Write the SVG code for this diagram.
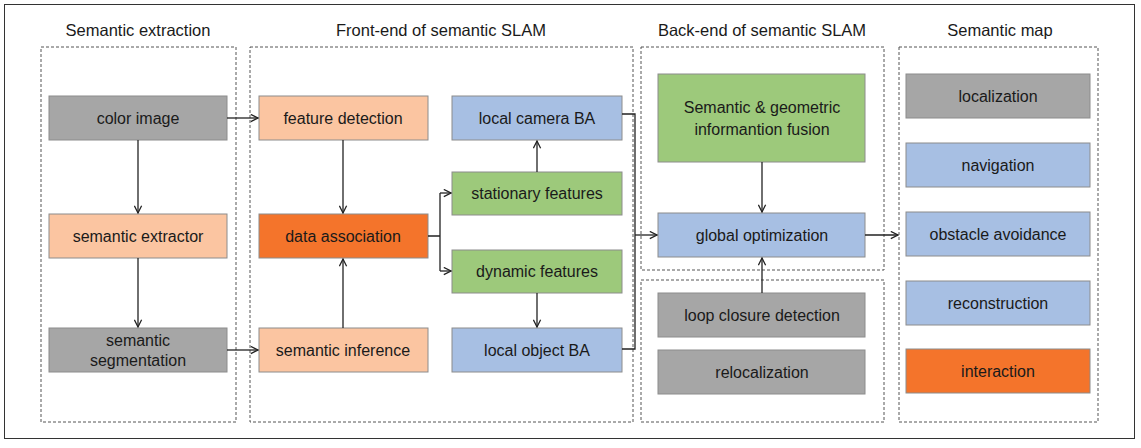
<svg xmlns="http://www.w3.org/2000/svg" width="1141" height="448" viewBox="0 0 1141 448">
<defs>
<style>
text{font-family:"Liberation Sans",Arial,sans-serif;font-size:16px;fill:#1a1a1a;text-anchor:middle;dominant-baseline:central}
.t{font-size:16.5px}
.b rect{stroke:#8c8c8c;stroke-width:1}
.g{fill:#a6a6a6}.p{fill:#fbc5a1}.o{fill:#f4742b}.bl{fill:#a7bfe3}.gr{fill:#9dc97b}
.d{fill:none;stroke:#555;stroke-width:1;stroke-dasharray:3 2}
.c path{fill:none;stroke:#222;stroke-width:1.3}
</style>
<marker id="a" viewBox="0 0 10 10" refX="9" refY="5" markerWidth="9" markerHeight="9" markerUnits="userSpaceOnUse" orient="auto"><path d="M1,1 L9,5 L1,9" fill="none" stroke="#222" stroke-width="1.4"/></marker>
</defs>
<rect x="0" y="0" width="1141" height="448" fill="#fff"/>
<rect x="4.5" y="4.5" width="1130" height="434" fill="none" stroke="#333" stroke-width="1"/>
<g id="frames">
<rect class="d" x="41" y="47" width="195" height="375"/>
<rect class="d" x="250" y="47" width="383" height="375"/>
<rect class="d" x="641" y="47" width="243" height="223"/>
<rect class="d" x="641" y="280" width="243" height="142"/>
<rect class="d" x="899" y="47" width="199" height="375"/>
<text class="t" x="138" y="30">Semantic extraction</text>
<text class="t" x="441" y="30">Front-end of semantic SLAM</text>
<text class="t" x="762" y="30">Back-end of semantic SLAM</text>
<text class="t" x="1000" y="30">Semantic map</text>
</g>
<g id="color-image" class="b"><rect class="g" x="49" y="96" width="178" height="44"/><text x="138" y="118">color image</text></g>
<g id="semantic-extractor" class="b"><rect class="p" x="49" y="214" width="178" height="44"/><text x="138" y="236">semantic extractor</text></g>
<g id="semantic-segmentation" class="b"><rect class="g" x="49" y="328" width="178" height="44"/><text x="138" y="340">semantic</text><text x="138" y="360">segmentation</text></g>
<g id="feature-detection" class="b"><rect class="p" x="259" y="96" width="169" height="44"/><text x="343" y="118">feature detection</text></g>
<g id="data-association" class="b"><rect class="o" x="259" y="214" width="169" height="44"/><text x="343" y="236">data association</text></g>
<g id="semantic-inference" class="b"><rect class="p" x="259" y="328" width="169" height="44"/><text x="343" y="350">semantic inference</text></g>
<g id="local-camera-ba" class="b"><rect class="bl" x="452" y="96" width="170" height="44"/><text x="537" y="118">local camera BA</text></g>
<g id="stationary-features" class="b"><rect class="gr" x="452" y="172" width="170" height="43"/><text x="537" y="193">stationary features</text></g>
<g id="dynamic-features" class="b"><rect class="gr" x="452" y="250" width="170" height="43"/><text x="537" y="271">dynamic features</text></g>
<g id="local-object-ba" class="b"><rect class="bl" x="452" y="328" width="170" height="44"/><text x="537" y="350">local object BA</text></g>
<g id="fusion" class="b"><rect class="gr" x="658" y="74" width="207" height="88"/><text x="762" y="107">Semantic &amp; geometric</text><text x="762" y="129">informantion fusion</text></g>
<g id="global-optimization" class="b"><rect class="bl" x="658" y="213" width="207" height="44"/><text x="762" y="235">global optimization</text></g>
<g id="loop-closure" class="b"><rect class="g" x="658" y="293" width="207" height="44"/><text x="762" y="315">loop closure detection</text></g>
<g id="relocalization" class="b"><rect class="g" x="658" y="350" width="207" height="44"/><text x="762" y="372">relocalization</text></g>
<g id="localization" class="b"><rect class="g" x="906" y="74" width="184" height="44"/><text x="998" y="96">localization</text></g>
<g id="navigation" class="b"><rect class="bl" x="906" y="143" width="184" height="44"/><text x="998" y="165">navigation</text></g>
<g id="obstacle-avoidance" class="b"><rect class="bl" x="906" y="212" width="184" height="44"/><text x="998" y="234">obstacle avoidance</text></g>
<g id="reconstruction" class="b"><rect class="bl" x="906" y="281" width="184" height="44"/><text x="998" y="303">reconstruction</text></g>
<g id="interaction" class="b"><rect class="o" x="906" y="349" width="184" height="44"/><text x="998" y="371">interaction</text></g>
<g id="connectors" class="c">
<path d="M227,118 H258" marker-end="url(#a)"/>
<path d="M138,140 V213" marker-end="url(#a)"/>
<path d="M138,258 V327" marker-end="url(#a)"/>
<path d="M227,350 H258" marker-end="url(#a)"/>
<path d="M343,140 V213" marker-end="url(#a)"/>
<path d="M343,328 V259" marker-end="url(#a)"/>
<path d="M428,236 H440 M440,193 V271"/>
<path d="M440,193 H451" marker-end="url(#a)"/>
<path d="M440,271 H451" marker-end="url(#a)"/>
<path d="M537,172 V141" marker-end="url(#a)"/>
<path d="M537,293 V327" marker-end="url(#a)"/>
<path d="M622,114 H635 V349 H622"/>
<path d="M635,235 H657" marker-end="url(#a)"/>
<path d="M762,162 V212" marker-end="url(#a)"/>
<path d="M762,293 V258" marker-end="url(#a)"/>
<path d="M865,235 H898" marker-end="url(#a)"/>
</g>
</svg>
